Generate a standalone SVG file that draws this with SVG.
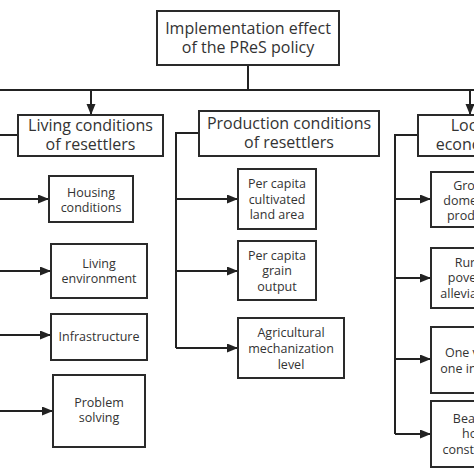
<svg xmlns="http://www.w3.org/2000/svg" width="474" height="474" viewBox="0 0 474 474">
<defs>
<marker id="ah" markerUnits="userSpaceOnUse" markerWidth="12" markerHeight="10" refX="11" refY="4.5" orient="auto">
<path d="M0,0 L11,4.5 L0,9 z" fill="#222"/>
</marker>
<style>
.box{fill:#fff;stroke:#2a2a2a;stroke-width:2}
.ln{fill:none;stroke:#222;stroke-width:2}
.arr{fill:none;stroke:#222;stroke-width:2;marker-end:url(#ah)}
.t1{font-family:"Open Sans","Liberation Sans",sans-serif;font-size:16px;fill:#333;text-anchor:middle}
.t2{font-family:"Open Sans","Liberation Sans",sans-serif;font-size:12.5px;fill:#333;text-anchor:middle}
</style>
</defs>
<rect width="474" height="474" fill="#fff"/>
<g id="connectors">
<path class="ln" d="M248,65 V90 M-10,90 H484"/>
<path class="arr" d="M91,90 V115"/>
<path class="arr" d="M470,90 V115"/>
<path class="ln" d="M18,135 H-5 V411"/>
<path class="arr" d="M-5,199 H49"/>
<path class="arr" d="M-5,271 H51"/>
<path class="arr" d="M-5,335 H51"/>
<path class="arr" d="M-5,411 H53"/>
<path class="ln" d="M199,133 H176 V348"/>
<path class="arr" d="M176,199 H238"/>
<path class="arr" d="M176,271 H238"/>
<path class="arr" d="M176,348 H238"/>
<path class="ln" d="M418,135 H395 V434"/>
<path class="arr" d="M395,199 H431"/>
<path class="arr" d="M395,278 H431"/>
<path class="arr" d="M395,359 H431"/>
<path class="arr" d="M395,434 H431"/>
</g>
<g id="root"><rect class="box" x="157" y="11" width="182" height="54"/><text class="t1" x="248" y="34">Implementation effect</text><text class="t1" x="248" y="53">of the PReS policy</text></g>
<g id="living"><rect class="box" x="18" y="115" width="145" height="41"/><text class="t1" x="90.5" y="131">Living conditions</text><text class="t1" x="90.5" y="150">of resettlers</text></g>
<g id="production"><rect class="box" x="199" y="111" width="180" height="45"/><text class="t1" x="289" y="129">Production conditions</text><text class="t1" x="289" y="148">of resettlers</text></g>
<g id="local"><rect class="box" x="418" y="115" width="104" height="41"/><text class="t1" x="470" y="131">Local</text><text class="t1" x="470" y="150">economy</text></g>
<g id="housing"><rect class="box" x="49" y="176" width="84" height="46"/><text class="t2" x="91" y="197">Housing</text><text class="t2" x="91" y="212">conditions</text></g>
<g id="living-env"><rect class="box" x="51" y="244" width="96" height="54"/><text class="t2" x="99" y="268">Living</text><text class="t2" x="99" y="283">environment</text></g>
<g id="infrastructure"><rect class="box" x="51" y="314" width="96" height="46"/><text class="t2" x="99" y="341">Infrastructure</text></g>
<g id="problem"><rect class="box" x="53" y="375" width="92" height="72"/><text class="t2" x="99" y="407">Problem</text><text class="t2" x="99" y="422">solving</text></g>
<g id="land"><rect class="box" x="238" y="169" width="78" height="60"/><text class="t2" x="277" y="188">Per capita</text><text class="t2" x="277" y="204">cultivated</text><text class="t2" x="277" y="219">land area</text></g>
<g id="grain"><rect class="box" x="238" y="241" width="78" height="59"/><text class="t2" x="277" y="260">Per capita</text><text class="t2" x="277" y="275">grain</text><text class="t2" x="277" y="291">output</text></g>
<g id="mech"><rect class="box" x="238" y="318" width="106" height="60"/><text class="t2" x="291" y="337">Agricultural</text><text class="t2" x="291" y="353">mechanization</text><text class="t2" x="291" y="369">level</text></g>
<g id="gdp"><rect class="box" x="431" y="172" width="78" height="55"/><text class="t2" x="470" y="190">Gross</text><text class="t2" x="470" y="205">domestic</text><text class="t2" x="470" y="220">product</text></g>
<g id="rural"><rect class="box" x="431" y="248" width="78" height="60"/><text class="t2" x="470" y="267">Rural</text><text class="t2" x="470" y="282">poverty</text><text class="t2" x="470" y="298">alleviation</text></g>
<g id="ovoi"><rect class="box" x="431" y="327" width="94" height="66"/><text class="t2" x="477" y="357">One village</text><text class="t2" x="477" y="373">one industry</text></g>
<g id="beautiful"><rect class="box" x="431" y="401" width="96" height="66"/><text class="t2" x="479" y="423">Beautiful</text><text class="t2" x="479" y="438">home</text><text class="t2" x="479" y="454">construction</text></g>
</svg>
